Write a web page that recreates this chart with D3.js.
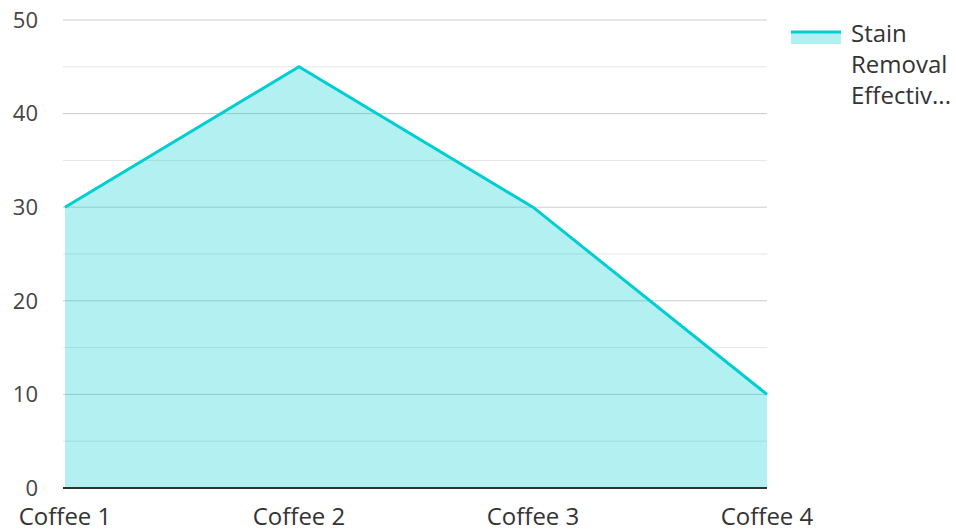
<!DOCTYPE html>
<html><head><meta charset="utf-8">
<script src="https://cdn.jsdelivr.net/npm/d3@7"></script>
<style>body{margin:0;background:#fff}svg{display:block;font-family:"Open Sans",sans-serif}</style>
</head><body><svg id="c" width="956" height="529"></svg>
<script>
const categories = ["Coffee 1","Coffee 2","Coffee 3","Coffee 4"];
const values = [30,45,30,10];
const yTicks = [0,10,20,30,40,50];
const minorTicks = [5,15,25,35,45];
const seriesName = ["Stain","Removal","Effectiv..."];

const svg = d3.select("#c");
const L=65,R=767,T=20,B=488;
const x = d3.scalePoint().domain(categories).range([L,R]);
const y = d3.scaleLinear().domain([0,50]).range([B,T]);
const color="#00CED1";

svg.append("g").selectAll("line").data(minorTicks).join("line")
 .attr("x1",63).attr("x2",R).attr("y1",d=>y(d)).attr("y2",d=>y(d))
 .attr("stroke","#e6e6e6").attr("stroke-width",1);
svg.append("g").selectAll("line").data(yTicks.filter(d=>d>0)).join("line")
 .attr("x1",63).attr("x2",R).attr("y1",d=>y(d)).attr("y2",d=>y(d))
 .attr("stroke","#cccccc").attr("stroke-width",1);

const area = d3.area().x((d,i)=>x(categories[i])).y0(y(0)).y1(d=>y(d));
svg.append("path").datum(values).attr("d",area).attr("fill",color).attr("fill-opacity",0.3);
const line = d3.line().x((d,i)=>x(categories[i])).y(d=>y(d));
svg.append("path").datum(values).attr("d",line).attr("fill","none").attr("stroke",color).attr("stroke-width",3);

svg.append("line").attr("x1",63).attr("x2",R).attr("y1",B).attr("y2",B).attr("stroke","#333").attr("stroke-width",2);

svg.append("g").selectAll("text").data(yTicks).join("text")
 .attr("x",38).attr("y",d=>y(d)).attr("dy","0.35em").attr("text-anchor","end")
 .attr("font-size",22).attr("fill","#444").text(d=>d);
svg.append("g").selectAll("text").data(categories).join("text")
 .attr("x",d=>x(d)).attr("y",525).attr("text-anchor","middle")
 .attr("font-size",24).attr("fill","#333").text(d=>d);

const lg = svg.append("g");
lg.append("rect").attr("x",791).attr("y",32).attr("width",50).attr("height",12).attr("fill",color).attr("fill-opacity",0.3);
lg.append("line").attr("x1",791).attr("x2",841).attr("y1",32).attr("y2",32).attr("stroke",color).attr("stroke-width",3);
lg.selectAll("text").data(seriesName).join("text")
 .attr("x",851).attr("y",(d,i)=>42+i*31).attr("font-size",24).attr("fill","#333").text(d=>d);
</script></body></html>
